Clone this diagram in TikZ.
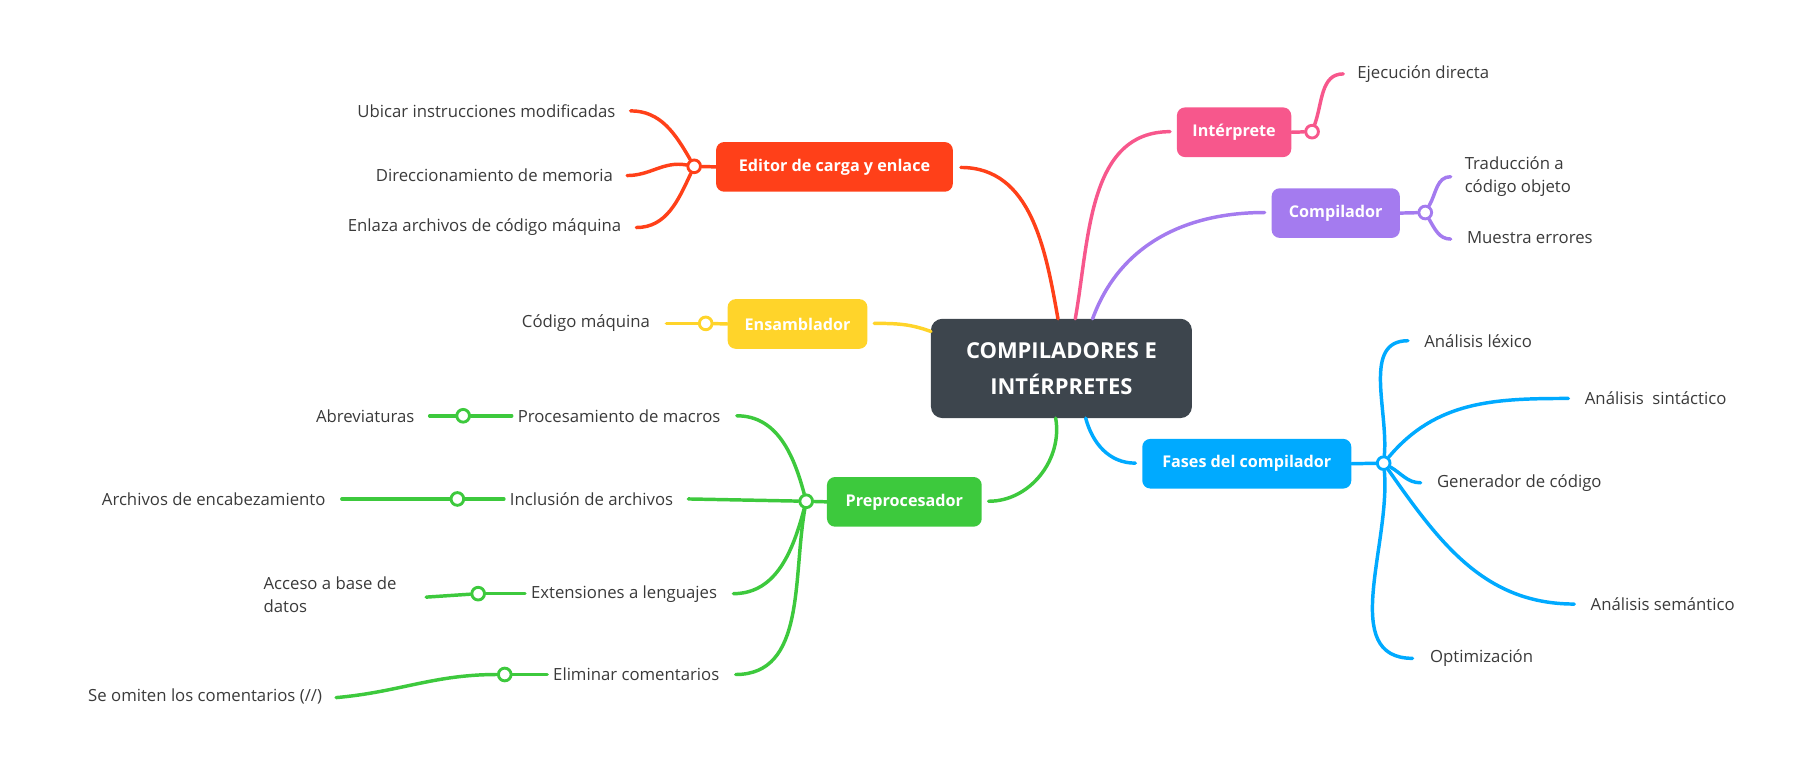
\documentclass[tikz,border=0pt]{standalone}
\usepackage{fontspec}
\setmainfont{Open Sans}
\definecolor{cen}{HTML}{3D454D}
\definecolor{cred}{HTML}{FF4019}
\definecolor{cpink}{HTML}{F7578C}
\definecolor{cpur}{HTML}{A47BEF}
\definecolor{cyel}{HTML}{FFD42A}
\definecolor{cgrn}{HTML}{3DC93D}
\definecolor{cblu}{HTML}{00AAFF}
\definecolor{txt}{HTML}{3A3A3A}
\tikzset{
 main/.style={rounded corners=7pt,text=white,font=\fontsize{14}{16}\selectfont\bfseries,inner sep=0pt,minimum height=43pt},
 lbl/.style={text=txt,font=\fontsize{14.5}{20}\selectfont,inner sep=0pt},
 br/.style={line width=3pt,line cap=round},
 hub/.style={circle,draw,fill=white,line width=2.5pt,minimum size=11pt,inner sep=0pt},
}
\begin{document}
\begin{tikzpicture}[x=1pt,y=-1pt]
\useasboundingbox (0,0) rectangle (1568,668);
% central
\node[fill=cen,rounded corners=10pt,text=white,font=\fontsize{19}{31}\selectfont\bfseries,align=center,minimum width=226pt,minimum height=86pt,inner sep=0pt] (c) at (919,319) {COMPILADORES E\\INTÉRPRETES};
% main nodes
\node[main,fill=cred,minimum width=205pt] (ed) at (722.5,144.5) {Editor de carga y enlace};
\node[main,fill=cpink,minimum width=99pt] (in) at (1068.5,114.5) {Intérprete};
\node[main,fill=cpur,minimum width=111pt] (co) at (1156.5,184.5) {Compilador};
\node[main,fill=cyel,minimum width=121pt] (en) at (690.5,280.5) {Ensamblador};
\node[main,fill=cgrn,minimum width=134pt] (pr) at (783,434.5) {Preprocesador};
\node[main,fill=cblu,minimum width=181pt] (fa) at (1079.5,401.5) {Fases del compilador};
% main connectors
\draw[br,cred] (832,145) to[out=0,in=100] (916,276);
\draw[br,cpink] (1013,114) to[out=180,in=80] (931,276);
\draw[br,cpur] (1095,184) to[out=180,in=70] (946,276);
\draw[br,cyel] (757,280) to[out=0,in=160] (806,287);
\draw[br,cgrn] (856,434) to[out=0,in=-80] (914,362);
\draw[br,cblu] (983,401) to[out=180,in=-75] (940,362);
% Editor
\node[hub,draw=cred] (he) at (601,144) {};
\draw[br,cred] (ed.west) -- (he);
\node[lbl,anchor=east] (e1) at (533,96) {Ubicar instrucciones modificadas};
\node[lbl,anchor=east] (e2) at (531,152) {Direccionamiento de memoria};
\node[lbl,anchor=east] (e3) at (538,197) {Enlaza archivos de código máquina};
\draw[br,cred] (he) to[out=120,in=0] (546,96);
\draw[br,cred] (he) to[out=170,in=0] (543,152);
\draw[br,cred] (he) to[out=-115,in=0] (551,197);
% Interprete
\node[hub,draw=cpink] (hi) at (1136,114) {};
\draw[br,cpink] (in.east) -- (hi);
\node[lbl,anchor=west] (i1) at (1175,64) {Ejecución directa};
\draw[br,cpink] (hi) to[out=70,in=180] (1163,64);
% Compilador
\node[hub,draw=cpur] (hc) at (1234,184) {};
\draw[br,cpur] (co.east) -- (hc);
\node[lbl,anchor=west,align=left] (c1) at (1268,153) {Traducción a\\código objeto};
\node[lbl,anchor=west] (c2) at (1270,206) {Muestra errores};
\draw[br,cpur] (hc) to[out=60,in=180] (1256,153);
\draw[br,cpur] (hc) to[out=-60,in=180] (1256,207);
% Ensamblador
\node[hub,draw=cyel] (hy) at (611,280) {};
\draw[br,cyel] (en.west) -- (hy);
\node[lbl,anchor=east] (y1) at (563,280) {Código máquina};
\draw[br,cyel] (hy) -- (577,280);
% Preprocesador
\node[hub,draw=cgrn] (hp) at (698,434) {};
\draw[br,cgrn] (pr.west) -- (hp);
\node[lbl,anchor=east] (p1) at (624,360) {Procesamiento de macros};
\node[lbl,anchor=east] (p2) at (583,432) {Inclusión de archivos};
\node[lbl,anchor=east] (p3) at (621,514) {Extensiones a lenguajes};
\node[lbl,anchor=east] (p4) at (623,584) {Eliminar comentarios};
\draw[br,cgrn] (hp) to[out=105,in=0] (638,360);
\draw[br,cgrn] (hp) -- (596,432);
\draw[br,cgrn] (hp) to[out=-105,in=0] (635,514);
\draw[br,cgrn] (hp) to[out=-100,in=0] (637,584);
% grandchildren
\node[hub,draw=cgrn] (hp1) at (401,360) {};
\draw[br,cgrn] (p1.west) ++(-5,0) -- (hp1);
\node[lbl,anchor=east] (q1) at (359,360) {Abreviaturas};
\draw[br,cgrn] (hp1) -- (372,360);
\node[hub,draw=cgrn] (hp2) at (396,432) {};
\draw[br,cgrn] (p2.west) ++(-5,0) -- (hp2);
\node[lbl,anchor=east] (q2) at (282,432) {Archivos de encabezamiento};
\draw[br,cgrn] (hp2) -- (296,432);
\node[hub,draw=cgrn] (hp3) at (414,514) {};
\draw[br,cgrn] (p3.west) ++(-5,0) -- (hp3);
\node[lbl,anchor=west,align=left] (q3) at (228,515) {Acceso a base de\\datos};
\draw[br,cgrn] (hp3) -- (369,517);
\node[hub,draw=cgrn] (hp4) at (437,584) {};
\draw[br,cgrn] (p4.west) ++(-5,0) -- (hp4);
\node[lbl,anchor=east] (q4) at (279,603) {Se omiten los comentarios (//)};
\draw[br,cgrn] (hp4) to[out=180,in=5] (291,604);
% Fases
\node[hub,draw=cblu] (hf) at (1198,401) {};
\draw[br,cblu] (fa.east) -- (hf);
\node[lbl,anchor=west] (f1) at (1233,295) {Análisis léxico};
\node[lbl,anchor=west] (f2) at (1372,345) {Análisis\ \ sintáctico};
\node[lbl,anchor=west] (f3) at (1244,418) {Generador de código};
\node[lbl,anchor=west] (f4) at (1377,523) {Análisis semántico};
\node[lbl,anchor=west] (f5) at (1238,570) {Optimización};
\draw[br,cblu] (hf) to[out=85,in=180] (1219,295);
\draw[br,cblu] (hf) to[out=50,in=180] (1358,345);
\draw[br,cblu] (hf) to[out=-30,in=180] (1230,418);
\draw[br,cblu] (hf) to[out=-55,in=180] (1363,523);
\draw[br,cblu] (hf) to[out=-85,in=180] (1223,570);
\end{tikzpicture}
\end{document}
